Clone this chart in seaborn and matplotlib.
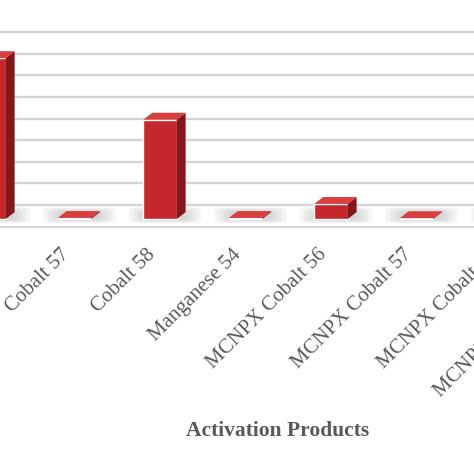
import matplotlib
matplotlib.use("Agg")
import matplotlib.pyplot as plt
import seaborn as sns
import pandas as pd
from matplotlib.patches import Polygon, FancyBboxPatch
from matplotlib.transforms import ScaledTranslation

products = ["Cobalt 56", "Cobalt 57", "Cobalt 58", "Manganese 54",
            "MCNPX Cobalt 56", "MCNPX Cobalt 57", "MCNPX Cobalt 58",
            "MCNPX Manganese 54"]
activity = [7.45, 0.05, 4.6, 0.05, 0.7, 0.04, 4.3, 0.05]
grid_levels = list(range(9))

df = pd.DataFrame({"product": products, "activity": activity})

sns.set_theme(style="white")
plt.rcParams["font.family"] = ["Liberation Serif", "DejaVu Serif"]

fig, ax = plt.subplots(figsize=(4.74, 4.74), dpi=100)
# the original chart is cropped: the axes run past the right edge
ax.set_position([0, 0.521, 1.5, 0.479])

# fake 3d depth, in data units
dx, dy = 0.105, 0.32
wall = 0.65  # back wall gridlines sit above the bar fronts

for k in grid_levels:
    ax.axhline(k + wall, color="#d4d4d4", lw=1.7, zorder=0)

sns.barplot(data=df, x="product", y="activity", color="#c4282c",
            saturation=1, width=0.39, ax=ax, zorder=3)

bars = list(ax.patches)
for bar in bars:
    x0, w, h = bar.get_x(), bar.get_width(), bar.get_height()
    cx = x0 + w / 2 + 0.06
    # soft shadow on the floor, darker near the base
    for i in range(6):
        half = 0.42 - 0.05 * i
        ax.add_patch(FancyBboxPatch((cx - half, -0.18 + 0.04 * i), 2 * half, 0.72 - 0.09 * i,
                                    boxstyle="round,pad=0,rounding_size=0.12",
                                    color="#8c8c8c", alpha=0.09, lw=0, zorder=1))
    ax.add_patch(Polygon([(x0 + w, 0), (x0 + w + dx, dy), (x0 + w + dx, h + dy), (x0 + w, h)],
                         closed=True, color="#85171a", lw=0, zorder=3))
    ax.add_patch(Polygon([(x0, h), (x0 + dx, h + dy), (x0 + w + dx, h + dy), (x0 + w, h)],
                         closed=True, color="#d8403f", lw=0, zorder=3))

ax.set_yticks([])
ax.set_ylabel("")
ax.set_xticks(range(len(products)))
ax.set_xticklabels(products, rotation=45, ha="right", rotation_mode="anchor",
                   fontsize=15, color="#595959")
ax.tick_params(axis="x", length=0, pad=13)
shift = ScaledTranslation(-0.14, 0, fig.dpi_scale_trans)
for lab in ax.get_xticklabels():
    lab.set_transform(lab.get_transform() + shift)
ax.set_xlim(0.129, 8.445)
ax.set_ylim(-0.37, 10.14)
ax.set_xlabel("Activation Products", fontsize=15.5, fontweight="bold", color="#595959")
ax.xaxis.set_label_coords(0.391, -0.855)

for side in ["top", "left", "right"]:
    ax.spines[side].set_visible(False)
ax.spines["bottom"].set_color("#d4d4d4")
ax.spines["bottom"].set_linewidth(1.5)

fig.savefig("out.png", dpi=100)
